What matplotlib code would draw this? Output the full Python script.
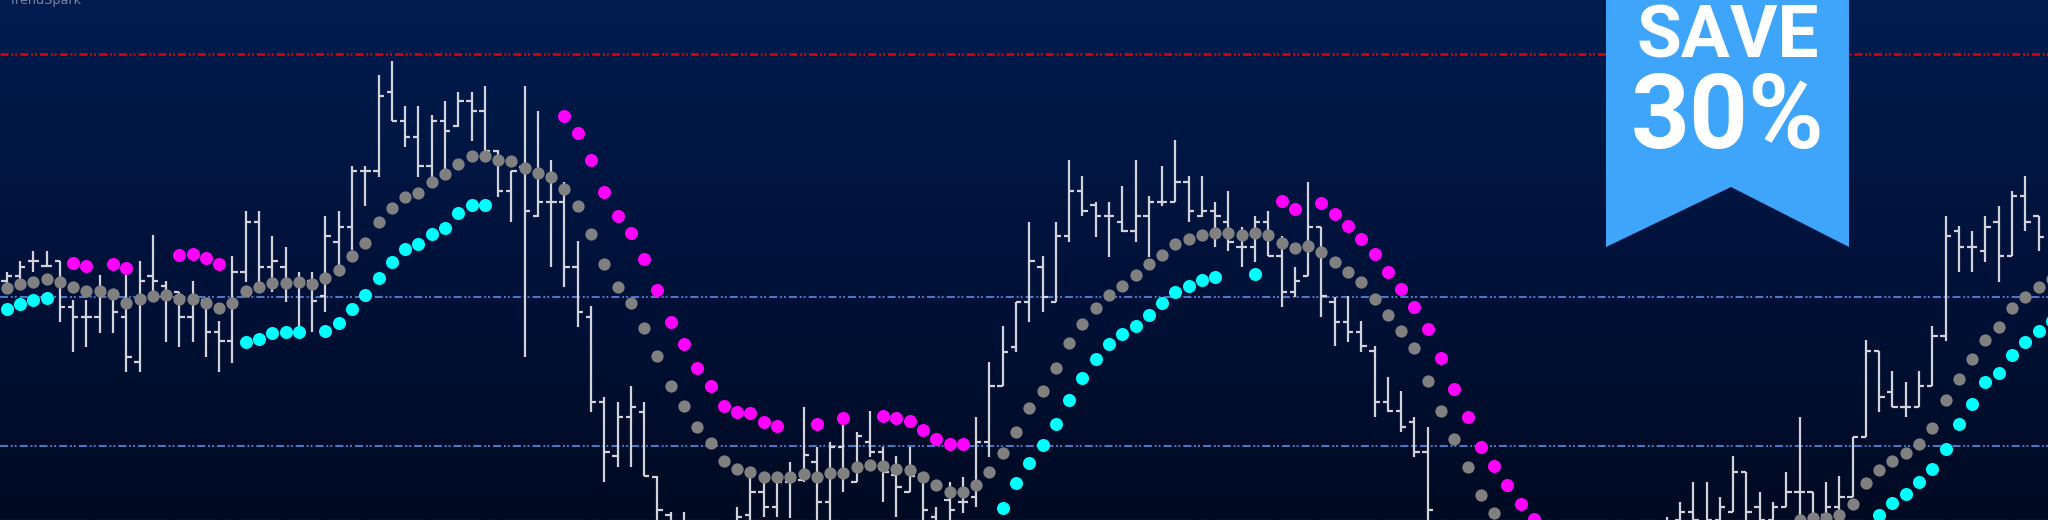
import numpy as np
import matplotlib
matplotlib.use("Agg")
import matplotlib.pyplot as plt
from matplotlib.colors import LinearSegmentedColormap
from matplotlib.patches import Polygon

nan = np.nan
# bars 108-124 fell below the visible price range
HIDDEN = [nan] * 17

# chart is read in screen units: price level measured from the top edge
opens = [281, 276, 261, 266, 261, 307, 317, 317, 295, 317,
         362, 276, 286, 292, 317, 300, 332, 341, 272, 222,
         267, 267, 281, 281, 296, 242, 227, 171, 171, 92,
         121, 137, 166, 121, 126, 101, 111, 151, 191, 167,
         216, 202, 202, 267, 317, 402, 456, 417, 412, 477,
         515, 525, nan, nan, nan, 525, 515, 492, 507, 482,
         480, 462, 502, 447, 482, 442, 452, 475, 492, 475,
         517, 500, 502, 497, 442, 386, 347, 302, 267, 302,
         236, 191, 205, 216, 222, 231, 216, 202, 202, 182,
         216, 211, 222, 247, 247, 222, 256, 292, 276, 227,
         302, 322, 332, 351, 402, 411, 422, 452] + HIDDEN + [
         525, 520, 512, 525, 520, 512, 472, 507, 520, 507,
         492, 492, 515, 507, 497, 437, 351, 392, 407, 407,
         386, 336, 231, 247, 251, 222, 256, 196, 216, nan]
highs = [272, 261, 251, 251, 261, 300, 300, 275, 290, 275,
         261, 235, 281, 292, 281, 300, 321, 256, 211, 211,
         236, 247, 272, 272, 216, 211, 166, 166, 75, 61,
         106, 106, 115, 101, 92, 92, 86, 150, 171, 86,
         111, 160, 182, 241, 306, 397, 402, 386, 402, 476,
         512, 512, nan, nan, nan, 507, 476, 476, 476, 462,
         407, 447, 442, 417, 432, 411, 447, 456, 447, 473,
         507, 482, 477, 417, 362, 326, 302, 222, 256, 222,
         160, 176, 202, 202, 186, 160, 196, 166, 140, 176,
         176, 202, 191, 227, 216, 211, 236, 267, 182, 227,
         297, 296, 321, 346, 377, 391, 417, 427] + HIDDEN + [
         517, 502, 482, 482, 497, 456, 472, 492, 502, 472,
         417, 492, 482, 476, 437, 340, 351, 371, 382, 371,
         326, 216, 226, 231, 216, 206, 191, 176, 216, nan]
lows = [290, 288, 272, 267, 322, 352, 347, 333, 333, 372,
        372, 295, 342, 347, 342, 357, 372, 363, 282, 282,
        292, 302, 332, 332, 312, 270, 250, 206, 177, 121,
        147, 177, 177, 172, 127, 141, 152, 197, 222, 357,
        217, 267, 287, 327, 412, 482, 467, 467, 476, 540,
        540, 540, nan, nan, nan, 540, 540, 517, 517, 518,
        482, 530, 525, 492, 482, 457, 502, 517, 492, 540,
        540, 540, 513, 507, 457, 386, 352, 322, 312, 302,
        242, 216, 237, 257, 232, 242, 257, 206, 202, 222,
        217, 247, 251, 267, 262, 256, 307, 297, 276, 317,
        346, 342, 352, 417, 412, 432, 457, 540] + HIDDEN + [
        540, 540, 540, 540, 540, 512, 540, 540, 540, 507,
        525, 540, 525, 517, 497, 437, 412, 407, 417, 407,
        386, 341, 272, 272, 262, 282, 256, 231, 251, nan]
closes = [276, 267, 261, 266, 307, 317, 317, 291, 312, 357,
          281, 281, 292, 317, 296, 332, 341, 272, 222, 267,
          261, 280, 280, 301, 236, 227, 171, 171, 96, 121,
          137, 166, 121, 131, 101, 111, 151, 191, 171, 211,
          202, 202, 267, 312, 402, 452, 417, 407, 476, 510,
          530, 530, nan, nan, nan, 517, 492, 507, 482, 480,
          455, 502, 447, 476, 436, 452, 472, 487, 476, 510,
          530, 510, 502, 442, 386, 352, 302, 261, 297, 236,
          191, 211, 216, 216, 231, 216, 202, 202, 182, 211,
          211, 216, 242, 247, 222, 256, 292, 281, 227, 296,
          322, 332, 346, 402, 411, 427, 452, 510] + HIDDEN + [
          525, 512, 520, 520, 507, 472, 512, 520, 507, 492,
          492, 515, 507, 497, 437, 351, 397, 407, 407, 386,
          336, 236, 247, 247, 227, 256, 196, 222, 237, nan]

# trend midline (gray dots)
mid = [288, 284, 282, 279, 282, 287, 291, 291, 294, 303,
       299, 296, 295, 299, 299, 303, 308, 303, 291, 287,
       283, 283, 282, 284, 278, 270, 256, 243, 222, 208,
       197, 193, 182, 174, 164, 156, 156, 160, 161, 168,
       173, 177, 189, 206, 234, 264, 287, 303, 328, 356,
       386, 406, 427, 443, 461, 469, 472, 477, 477, 477,
       474, 477, 473, 473, 467, 465, 466, 469, 470, 477,
       485, 492, 492, 485, 472, 453, 432, 408, 391, 368,
       343, 324, 308, 295, 286, 275, 264, 255, 244, 239,
       235, 233, 233, 235, 233, 235, 243, 248, 246, 252,
       262, 272, 282, 299, 315, 331, 348, 381, 411, 439,
       467, 495, 513] + [nan] * 22 + [
       520, 518, 518, 515, 504,
       483, 470, 461, 453, 444, 428, 400, 379, 359, 340,
       327, 308, 297, 287, 279]

# upper band, drawn while the trend points down (magenta)
upper = [nan, nan, nan, nan, nan, 263, 266, nan, 264, 268,
         nan, nan, nan, 255, 254, 258, 264, nan, nan, nan] + [nan] * 22 + [
         116, 133, 160, 192, 216, 233, 259, 290,
         322, 344, 368, 386, 406, 412, 413, 422, 426, nan,
         nan, 424, nan, 418, nan, nan, 416, 418, 421, 430,
         439, 444, 444] + [nan] * 23 + [
         201, 209, nan, 203,
         214, 226, 239, 254, 272, 289, 307, 329, 358, 389,
         417, 447, 466, 485, 504, 519] + [nan] * 39

# lower band, drawn while the trend points up (cyan)
lower = [309, 304, 300, 298] + [nan] * 14 + [342, 339,
         333, 332, 332, nan, 331, 323, 309, 295, 278, 262,
         249, 244, 234, 228, 213, 205, 205] + [nan] * 38 + [
         508, 483, 463, 445, 424,
         400, 378, 359, 344, 334, 326, 315, 303, 292, 286,
         280, 277, nan, nan, 274] + [nan] * 46 + [
         515, 503, 494, 482, 469, 449, 424, 404, 382,
         373, 355, 342, 331, 321]

red_level = 54
blue_levels = [297, 446]

plt.rcParams["lines.scale_dashes"] = False

W, H = 2048, 520
fig = plt.figure(figsize=(W / 100, H / 100), dpi=100)
ax = fig.add_axes([0, 0, 1, 1])

n = len(opens)
x = np.arange(n)
o, h, l, c = (np.array(v, dtype=float) for v in (opens, highs, lows, closes))
x0, x1 = -0.505, 153.71
ax.set_xlim(x0, x1)
ax.set_ylim(H, 0)

# background gradient
bg = LinearSegmentedColormap.from_list("bg", ["#001c4e", "#00123a", "#000a22"])
ax.imshow(np.linspace(0, 1, 256).reshape(-1, 1), cmap=bg, aspect="auto",
          extent=(x0, x1, H, 0), zorder=0)

# reference levels
dash = (0, (5.8, 2.0, 1.4, 1.4, 1.4, 2.2))
ax.axhline(red_level, color="#dd0000", lw=1.9, ls=dash, zorder=1)
for lv in blue_levels:
    ax.axhline(lv, color="#5283d6", lw=1.3, ls=dash, zorder=1)

# OHLC bars
ok = ~np.isnan(h)
bar_col = "#d2d2da"
tw = 0.4
ax.vlines(x[ok], h[ok], l[ok], color=bar_col, lw=1.6, zorder=2)
ax.hlines(o[ok], x[ok] - tw, x[ok], color=bar_col, lw=1.6, zorder=2)
ax.hlines(c[ok], x[ok], x[ok] + tw, color=bar_col, lw=1.6, zorder=2)

# indicator dots
ax.scatter(x, mid, s=78, color="#808080", lw=0, zorder=3)
ax.scatter(x, upper, s=88, color="#ff00ff", lw=0, zorder=3)
ax.scatter(x, lower, s=88, color="#00ffff", lw=0, zorder=3)

ax.set_xticks([])
ax.set_yticks([])
for side in ("top", "left", "right"):
    ax.spines[side].set_visible(False)
ax.spines["bottom"].set_color("#4a5060")

# overlay in pixel units: watermark and promo ribbon
ov = fig.add_axes([0, 0, 1, 1])
ov.set_xlim(0, W)
ov.set_ylim(H, 0)
ov.axis("off")
ov.patch.set_alpha(0)

ov.text(9, 4, "TrendSpark", color="#7a869c", fontsize=9.2, va="baseline",
        ha="left", family="DejaVu Sans")

ribbon = Polygon([(1606, -2), (1849, -2), (1849, 247), (1731, 187), (1606, 247)],
                 closed=True, color="#3ea5fa", lw=0, zorder=5)
ov.add_patch(ribbon)
ov.text(1728, 57, "SAVE", color="white", fontsize=52.5, fontweight="bold",
        family="Roboto", ha="center", va="baseline", zorder=6)
ov.text(1728, 148, "30%", color="white", fontsize=74, fontweight="bold",
        family="Roboto", ha="center", va="baseline", zorder=6)

fig.savefig("out.png", dpi=100)
